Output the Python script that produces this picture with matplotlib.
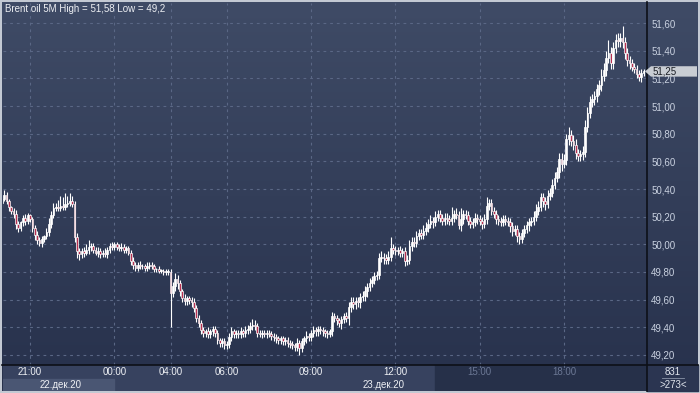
import numpy as np
import matplotlib
matplotlib.use("Agg")
import matplotlib.pyplot as plt
from matplotlib.patches import Polygon, Rectangle
from matplotlib.lines import Line2D
import matplotlib.transforms as mtransforms

plt.rcParams['font.family'] = ['Liberation Sans', 'DejaVu Sans']

# ---------------- data ----------------
title = "Brent oil 5M High = 51,58 Low = 49,2"
first_open = 50.30
closes = [
    50.33, 50.36, 50.31, 50.27, 50.24, 50.22, 50.15, 50.12, 50.16, 50.19, 50.17, 50.21, 50.18, 50.12, 50.07, 50.03, 50.01, 50.04, 50.06, 50.09, 50.15, 50.21, 50.26, 50.27, 50.26,
    50.28, 50.27, 50.29, 50.30, 50.31, 50.29, 50.05, 49.95, 49.93, 49.95, 49.94, 49.96, 49.98, 49.99, 49.96, 49.94, 49.95, 49.93, 49.94, 49.93, 49.96, 49.99, 49.98, 50.00, 49.98,
    49.97, 49.98, 49.96, 49.97, 49.94, 49.88, 49.85, 49.83, 49.85, 49.84, 49.84, 49.83, 49.84, 49.85, 49.84, 49.82, 49.82, 49.81, 49.81, 49.80, 49.80, 49.80, 49.65, 49.70, 49.75,
    49.72, 49.66, 49.61, 49.59, 49.61, 49.60, 49.58, 49.54, 49.47, 49.43, 49.38, 49.36, 49.37, 49.35, 49.37, 49.39, 49.36, 49.31, 49.29, 49.30, 49.27, 49.28, 49.33, 49.37, 49.35,
    49.36, 49.35, 49.37, 49.36, 49.38, 49.39, 49.41, 49.42, 49.41, 49.36, 49.35, 49.36, 49.35, 49.36, 49.35, 49.34, 49.33, 49.32, 49.31, 49.32, 49.30, 49.31, 49.29, 49.28, 49.27,
    49.26, 49.29, 49.25, 49.30, 49.32, 49.34, 49.33, 49.36, 49.38, 49.37, 49.39, 49.38, 49.37, 49.36, 49.35, 49.37, 49.48, 49.47, 49.45, 49.43, 49.46, 49.48, 49.47, 49.55, 49.58,
    49.57, 49.59, 49.58, 49.62, 49.63, 49.66, 49.69, 49.72, 49.74, 49.77, 49.78, 49.90, 49.91, 49.90, 49.89, 49.91, 49.97, 49.96, 49.95, 49.96, 49.94, 49.95, 49.88, 49.89, 49.99,
    50.02, 50.01, 50.06, 50.08, 50.07, 50.10, 50.12, 50.15, 50.17, 50.16, 50.20, 50.22, 50.19, 50.17, 50.19, 50.18, 50.17, 50.19, 50.22, 50.21, 50.14, 50.18, 50.22, 50.21, 50.17,
    50.15, 50.16, 50.19, 50.18, 50.17, 50.15, 50.18, 50.28, 50.30, 50.24, 50.22, 50.18, 50.17, 50.16, 50.18, 50.17, 50.16, 50.13, 50.10, 50.11, 50.06, 50.04, 50.08, 50.11, 50.14,
    50.16, 50.17, 50.20, 50.24, 50.27, 50.34, 50.31, 50.29, 50.35, 50.37, 50.43, 50.48, 50.52, 50.62, 50.58, 50.61, 50.76, 50.79, 50.75, 50.72, 50.66, 50.64, 50.65, 50.67, 50.85,
    50.95, 51.03, 51.05, 51.07, 51.12, 51.15, 51.22, 51.26, 51.35, 51.38, 51.31, 51.42, 51.48, 51.47, 51.49, 51.46, 51.38, 51.33, 51.31, 51.28, 51.27, 51.23, 51.21, 51.24, 51.25,
]
# upper / lower shadow lengths in cents
up_wick = [
    3, 3, 2, 2, 1, 2, 3, 2, 1, 2, 3, 2, 1, 2, 2, 3, 2, 2, 1, 3, 4, 3, 4, 3, 5,
    7, 6, 8, 5, 6, 4, 2, 3, 2, 2, 3, 4, 5, 2, 2, 2, 3, 2, 2, 3, 2, 2, 3, 2, 2,
    2, 3, 2, 2, 2, 2, 3, 2, 2, 3, 2, 2, 3, 2, 2, 2, 1, 2, 1, 1, 2, 2, 2, 3, 4,
    3, 2, 2, 3, 2, 2, 2, 3, 2, 2, 2, 2, 2, 3, 2, 2, 2, 2, 1, 2, 2, 2, 3, 3, 2,
    2, 2, 3, 2, 3, 3, 3, 4, 3, 2, 2, 2, 2, 2, 2, 2, 2, 2, 2, 2, 2, 2, 2, 2, 2,
    2, 3, 2, 2, 2, 3, 2, 2, 3, 2, 2, 2, 2, 2, 2, 2, 3, 2, 2, 2, 2, 2, 3, 3, 4,
    4, 3, 3, 3, 3, 4, 3, 4, 3, 3, 3, 4, 4, 3, 3, 4, 8, 3, 3, 2, 3, 2, 3, 3, 4,
    3, 3, 4, 3, 3, 4, 4, 3, 4, 3, 4, 3, 3, 3, 4, 4, 3, 8, 3, 4, 3, 8, 3, 3, 3,
    3, 3, 4, 3, 3, 3, 4, 6, 3, 3, 3, 3, 3, 3, 3, 3, 3, 3, 3, 3, 3, 3, 3, 3, 3,
    3, 3, 4, 5, 4, 3, 3, 3, 4, 4, 4, 4, 4, 4, 4, 4, 4, 6, 4, 4, 4, 3, 3, 4, 5,
    4, 4, 4, 4, 4, 4, 5, 5, 5, 10, 5, 4, 4, 5, 4, 9, 4, 4, 3, 3, 3, 3, 3, 3, 2,
]
down_wick = [
    3, 2, 2, 3, 2, 3, 4, 3, 2, 3, 3, 2, 2, 3, 4, 3, 2, 3, 2, 2, 3, 3, 2, 2, 2,
    2, 2, 2, 2, 2, 2, 3, 5, 4, 3, 3, 2, 3, 3, 2, 2, 3, 3, 2, 2, 3, 2, 2, 2, 2,
    2, 2, 2, 2, 2, 3, 3, 2, 2, 2, 2, 2, 2, 2, 2, 2, 2, 2, 2, 2, 2, 2, 25, 3, 4,
    4, 3, 3, 3, 3, 3, 3, 3, 3, 3, 3, 3, 3, 3, 3, 3, 3, 3, 3, 3, 3, 3, 3, 3, 3,
    3, 3, 3, 3, 3, 3, 3, 3, 3, 3, 2, 3, 2, 3, 2, 3, 3, 3, 3, 3, 3, 3, 3, 3, 3,
    3, 3, 5, 3, 3, 3, 3, 3, 3, 3, 3, 3, 3, 3, 3, 2, 3, 3, 3, 3, 4, 3, 3, 5, 4,
    4, 4, 3, 4, 3, 4, 4, 3, 3, 3, 3, 3, 3, 4, 3, 3, 3, 3, 3, 3, 3, 3, 4, 3, 3,
    4, 3, 3, 3, 3, 3, 3, 3, 3, 4, 3, 3, 3, 3, 3, 3, 3, 3, 3, 3, 3, 4, 3, 3, 3,
    3, 3, 3, 3, 3, 4, 3, 3, 3, 3, 3, 3, 3, 3, 3, 3, 3, 4, 4, 3, 4, 4, 3, 3, 3,
    4, 3, 3, 3, 3, 3, 4, 4, 3, 3, 3, 3, 3, 4, 5, 3, 4, 4, 4, 4, 4, 4, 4, 4, 4,
    4, 4, 4, 4, 4, 4, 4, 4, 4, 4, 4, 4, 4, 4, 4, 4, 4, 4, 4, 3, 3, 3, 3, 4, 2,
]
price_ticks = [49.2, 49.4, 49.6, 49.8, 50.0, 50.2, 50.4, 50.6, 50.8, 51.0, 51.2, 51.4, 51.6]
time_tick_idx = [12, 48, 72, 96, 132, 168, 204, 240]
time_tick_lbl = ["21:00", "00:00", "04:00", "06:00", "09:00", "12:00", "15:00", "18:00"]
date_lbl = ["22.дек.20", "23.дек.20"]
last_price = "51,25"
bar_count_lbl = ["831", ">273<"]

# ---------------- derived OHLC ----------------
c = np.array(closes)
o = np.concatenate([[first_open], c[:-1]])
top = np.maximum(o, c)
bot = np.minimum(o, c)
hi = top + np.array(up_wick) / 100.0
lo = bot - np.array(down_wick) / 100.0
idx = np.arange(len(c))

# ---------------- figure ----------------
W, H = 700, 393
fig = plt.figure(figsize=(W / 100, H / 100), dpi=100)
fig.patch.set_facecolor('#c3c9d3')

def fr(x0, y0, x1, y1):
    return [x0 / W, 1 - y1 / H, (x1 - x0) / W, (y1 - y0) / H]

# background gradient
bg = fig.add_axes(fr(2, 2, 698, 391))
grad = np.linspace(0, 1, 256).reshape(-1, 1)
top_c = np.array([63, 75, 102]) / 255
bot_c = np.array([39, 49, 76]) / 255
img = top_c[None, None, :] * (1 - grad[:, :, None]) + bot_c[None, None, :] * grad[:, :, None]
bg.imshow(img, aspect='auto', extent=[0, 1, 0, 1])
bg.set_axis_off()

# main axes
ax = fig.add_axes(fr(3, 3, 647, 365))
ax.set_facecolor('none')
x_per = 2.342
x_off = 1.9
xlim = ((3 - x_off) / x_per, (647 - x_off) / x_per)
ax.set_xlim(*xlim)
ypx = 138.33
ax.set_ylim(49.20 - 10 / ypx, 51.60 + 20 / ypx)

for y in price_ticks:
    ax.axhline(y, color='#5a6785', lw=0.8, ls=(0, (2.5, 3.5)), zorder=1)
for t in time_tick_idx:
    ax.axvline(t, color='#5a6785', lw=0.8, ls=(0, (2.5, 3.5)), zorder=1)

# wicks
ax.vlines(idx, lo, hi, color='white', lw=0.8, zorder=3)
# bodies: rising = white, falling = red with white outline
face = ['#b82f50' if cc < oo else 'white' for oo, cc in zip(o, c)]
ax.bar(idx, np.maximum(top - bot, 0.004), bottom=bot, width=0.72, color=face,
       edgecolor='white', linewidth=0.5, zorder=4)

ax.yaxis.tick_right()
ax.set_yticks(price_ticks)
ax.set_yticklabels([f"{v:.2f}".replace('.', ',') for v in price_ticks])
ax.tick_params(axis='y', length=0, pad=3, labelsize=7, labelcolor='#c9d1e0')
ax.set_xticks([])
for s in ax.spines.values():
    s.set_visible(False)

# title
fig.text(5 / W, 1 - 9.5 / H, title, fontsize=7, color='#eef0f4', va='center', ha='left')

# bottom time panel
bx = fig.add_axes(fr(3, 365, 647, 391))
bx.set_xlim(*xlim)
bx.set_ylim(0, 1)
bx.set_axis_off()
bx.add_patch(Rectangle((xlim[0], 0), xlim[1] - xlim[0], 1, color='#37425f', zorder=0))
bx.add_patch(Rectangle((xlim[0], 0), 48 - xlim[0], 0.48, color='#4a5673', zorder=1))
dark_start = (435 - x_off) / x_per
bx.add_patch(Rectangle((dark_start, 0), xlim[1] - dark_start, 1, color='#263049', zorder=1))
for t, lbl in zip(time_tick_idx, time_tick_lbl):
    col = '#6b7794' if t > dark_start else '#eef0f4'
    bx.text(t, 0.73, lbl, fontsize=7, color=col, ha='center', va='center', zorder=3)
    bx.plot([t, t], [0.93, 1.0], color='#5a6785', lw=0.8, zorder=2)
bx.text(25, 0.25, date_lbl[0], fontsize=7, color='#eef0f4', ha='center', va='center', zorder=3)
bx.text(163, 0.25, date_lbl[1], fontsize=7, color='#eef0f4', ha='center', va='center', zorder=3)

# right-bottom cell
fig.patches.append(Rectangle((647 / W, 2 / H), 51 / W, 26 / H, transform=fig.transFigure,
                             color='#2b3551', zorder=0.5))
fig.text(673 / W, 1 - 372 / H, bar_count_lbl[0], fontsize=7, color='#dfe4ec', ha='center', va='center')
fig.text(673 / W, 1 - 384.5 / H, bar_count_lbl[1], fontsize=7, color='#dfe4ec', ha='center', va='center')
fig.add_artist(Line2D([662 / W, 684 / W], [1 - 378 / H, 1 - 378 / H], color='#8a94a8', lw=0.6))

# separator lines
fig.add_artist(Line2D([647 / W, 647 / W], [2 / H, 1 - 2 / H], color='#0d1018', lw=1.2))
fig.add_artist(Line2D([2 / W, 698 / W], [1 - 365 / H, 1 - 365 / H], color='#0d1018', lw=1.2))

# current price marker
tr = mtransforms.blended_transform_factory(fig.transFigure, ax.transData)
lp = closes[-1]
hh = 5.2 / ypx
poly = Polygon([(645 / W, lp), (651 / W, lp + hh), (697 / W, lp + hh),
                (697 / W, lp - hh), (651 / W, lp - hh)], closed=True,
               transform=tr, facecolor='#c9cdd3', edgecolor='none', clip_on=False, zorder=10)
fig.patches.append(poly)
fig.text(653 / W, lp, last_price, transform=tr, fontsize=7, color='#1a1d24',
         ha='left', va='center', zorder=11)

fig.savefig("out.png", dpi=100, facecolor=fig.get_facecolor())
